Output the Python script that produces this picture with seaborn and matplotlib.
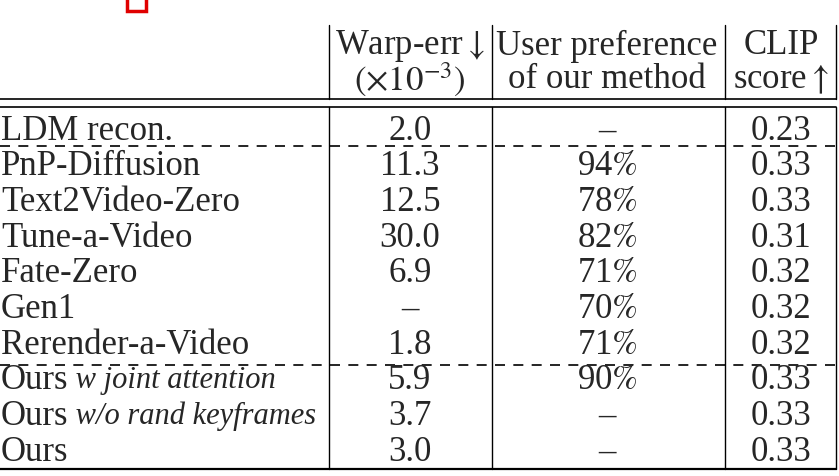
import matplotlib
matplotlib.use("Agg")
import matplotlib.pyplot as plt
import seaborn as sns

sns.set_theme(style="white")
plt.rcParams['font.family'] = ['Liberation Serif', 'DejaVu Serif']
plt.rcParams['mathtext.fontset'] = 'stix'

methods = ["LDM recon.", "PnP-Diffusion", "Text2Video-Zero", "Tune-a-Video", "Fate-Zero",
           "Gen1", "Rerender-a-Video", "Ours", "Ours", "Ours"]
variants = ["", "", "", "", "", "", "", "w joint attention", "w/o rand keyframes", ""]
warp_err = ["2.0", "11.3", "12.5", "30.0", "6.9", "–", "1.8", "5.9", "3.7", "3.0"]
user_pref = ["–", "94%", "78%", "82%", "71%", "70%", "71%", "90%", "–", "–"]
clip_score = ["0.23", "0.33", "0.33", "0.31", "0.32", "0.32", "0.32", "0.33", "0.33", "0.33"]

FS = 25
fig = plt.figure(figsize=(8.39, 4.76), dpi=100)
ax = fig.add_axes([0, 0, 1, 1])
ax.set_xlim(0, 839)
ax.set_ylim(476, 0)
ax.axis("off")

col_x = [410, 607, 781]
vlines = [329, 492, 725, 836]

# header
ax.text(col_x[0], 46, r"Warp-err$\downarrow$", ha="center", va="center", fontsize=FS)
ax.text(col_x[0], 80, r"$\left(\times 10^{-3}\right)$", ha="center", va="center", fontsize=FS)
ax.text(col_x[1], 46, "User preference", ha="center", va="center", fontsize=FS)
ax.text(col_x[1], 80, "of our method", ha="center", va="center", fontsize=FS)
ax.text(col_x[2], 46, "CLIP", ha="center", va="center", fontsize=FS)
ax.text(col_x[2], 80, r"score$\uparrow$", ha="center", va="center", fontsize=FS)

# rows
row_y = [131 + i * 35.7 for i in range(len(methods))]
for y, m, v, w, u, c in zip(row_y, methods, variants, warp_err, user_pref, clip_score):
    t = ax.text(1, y, m, ha="left", va="center", fontsize=FS)
    if v:
        ax.annotate(" " + v, xycoords=t, xy=(1, 0.5), va="center", ha="left",
                    fontsize=FS - 3, style="italic")
    ax.text(col_x[0], y, w, ha="center", va="center", fontsize=FS)
    ax.text(col_x[1], y, u.replace("%", r"$\%$"), ha="center", va="center", fontsize=FS)
    ax.text(col_x[2], y, c, ha="center", va="center", fontsize=FS)

# rules
for y in (99, 107):
    ax.plot([0, 836], [y, y], color="black", lw=1.2)
ax.plot([0, 836], [469, 469], color="black", lw=1.6)
for y in (146, 365):
    ax.plot([0, 836], [y, y], color="black", lw=1.2, ls=(0, (6, 5)))
for x in vlines:
    ax.plot([x, x], [25, 99], color="black", lw=1.0)
    ax.plot([x, x], [107, 469], color="black", lw=1.0)

# red marker at top
ax.add_patch(plt.Rectangle((127, -2), 19, 13, fill=False, edgecolor="#e00000", lw=2.5))

fig.savefig("out.png", dpi=100)
